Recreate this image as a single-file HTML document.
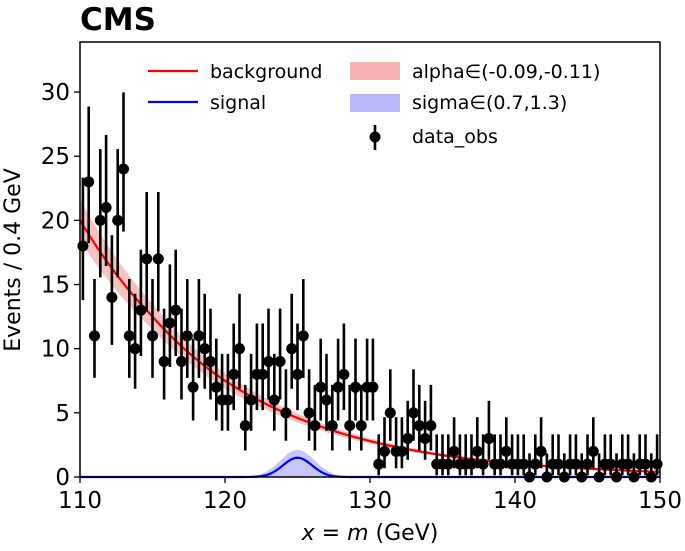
<!DOCTYPE html>
<html><head><meta charset="utf-8"><style>
body{margin:0;background:#fff;}
svg text{font-family:"DejaVu Sans","Liberation Sans",sans-serif;}
</style></head><body>
<svg id="chart" width="685" height="546" xmlns="http://www.w3.org/2000/svg">
<text x="80" y="30" font-size="31" font-weight="bold" font-family="Liberation Sans, sans-serif">CMS</text>
<g id="plot"></g>
</svg>
<script>
const counts=[18,23,11,20,21,14,20,24,11,10,
13,17,11,17,9,12,13,9,11,7,
11,10,9,7,6,6,8,10,4,6,
8,8,9,6,9,5,10,8,11,5,
4,7,6,4,7,8,4,7,4,7,
7,1,2,5,2,2,3,5,4,3,
4,1,1,1,2,1,1,1,2,1,
3,1,1,2,1,1,1,0,1,2,
0,1,1,0,1,1,0,1,2,0,
1,1,0,1,1,0,1,1,0,1];
const bgMass=[110,115,120,125,130,135,140,145,150];
const bgVals=[20,12.5,7.5,4.6,2.8,1.7,1.05,0.65,0.4];
const bgBand=[1.6,1.0,0.6,0.35,0.2,0.12,0.08,0.05,0.03];
const sigMean=[125];
const sigAmp=[1.5];
const sigWidth=[1.0];
const sigBandAmp=[2.1];
const xTicks=[110,120,130,140,150];
const yTicks=[0,5,10,15,20,25,30];

const L=80,R=660,T=42,B=477,XMIN=110,XMAX=150,YMAX=33.9;
const sx=v=>L+(v-XMIN)/(XMAX-XMIN)*(R-L);
const sy=v=>B-v/YMAX*(B-T);
const NS="http://www.w3.org/2000/svg";
const g=document.getElementById('plot');
function mk(tag,attrs,parent){const e=document.createElementNS(NS,tag);for(const k in attrs)e.setAttribute(k,attrs[k]);(parent||g).appendChild(e);return e;}
function interp(m,arr){for(let i=0;i<bgMass.length-1;i++){if(m<=bgMass[i+1]){const t=(m-bgMass[i])/(bgMass[i+1]-bgMass[i]);return Math.exp(Math.log(arr[i])*(1-t)+Math.log(arr[i+1])*t);}}return arr[arr.length-1];}
let up=[],lo=[],line=[];
for(let m=XMIN;m<=XMAX+1e-9;m+=0.2){const v=interp(m,bgVals),b=interp(m,bgBand);up.push(sx(m)+','+sy(v+b));lo.unshift(sx(m)+','+sy(Math.max(v-b,0)));line.push(sx(m)+','+sy(v));}
let e=mk('polygon',{points:up.concat(lo).join(' '),fill:'#f6b3b3',opacity:'0.8'});


let su=[],sl=[],sline=[];
for(let m=XMIN;m<=XMAX+1e-9;m+=0.1){const z=(m-sigMean[0])/sigWidth[0];const v=sigAmp[0]*Math.exp(-0.5*z*z);const zb=(m-sigMean[0])/(sigWidth[0]*1.2);const vb=sigBandAmp[0]*Math.exp(-0.5*zb*zb);su.push(sx(m)+','+sy(vb));sl.unshift(sx(m)+','+sy(0));sline.push(sx(m)+','+sy(v));}
e=mk('polygon',{points:su.concat(sl).join(' '),fill:'#b8b8f6',opacity:'0.8'});


e=mk('polyline',{points:line.join(' '),fill:'none',stroke:'#ff0000','stroke-width':2.2});


e=mk('polyline',{points:sline.join(' '),fill:'none',stroke:'#0000ff','stroke-width':2.2});


const dg=mk('g',{});


counts.forEach((n,i)=>{const m=XMIN+0.2+0.4*i;const x=sx(m);
 const hi=n>0?n+Math.sqrt(n+0.75)+1:1.84, lw=n>0?Math.max(n-Math.sqrt(n-0.25),0):0;
 let l=mk('line',{x1:x,x2:x,y1:sy(hi),y2:sy(lw),stroke:'#000','stroke-width':2.6},dg);
 
 
 let c=mk('circle',{cx:x,cy:sy(n),r:5.5,fill:'#000'},dg);
 
 
});
e=mk('rect',{x:L,y:T,width:R-L,height:B-T,fill:'none',stroke:'#000','stroke-width':1.5});


xTicks.forEach(v=>{mk('line',{x1:sx(v),x2:sx(v),y1:B,y2:B+6,stroke:'#000','stroke-width':1.3});
 const t=mk('text',{x:sx(v),y:B+31,'font-size':23,'text-anchor':'middle'});t.textContent=v;
 
 });
yTicks.forEach(v=>{mk('line',{x1:L-6,x2:L,y1:sy(v),y2:sy(v),stroke:'#000','stroke-width':1.3});
 const t=mk('text',{x:L-10,y:sy(v)+8,'font-size':23,'text-anchor':'end'});t.textContent=v;
 
 });
let t=mk('text',{x:370,y:540,'font-size':22,'text-anchor':'middle'});
t.innerHTML='<tspan font-style="italic">x</tspan> = <tspan font-style="italic">m</tspan> (GeV)';


t=mk('text',{x:0,y:0,'font-size':22,'text-anchor':'middle',transform:'translate(20,260) rotate(-90)'});
t.textContent='Events / 0.4 GeV';


const lg=mk('g',{});


function ltext(x,y,s,name){const tt=mk('text',{x:x,y:y,'font-size':19},lg);tt.textContent=s;}
mk('line',{x1:148,x2:198,y1:71,y2:71,stroke:'#ff0000','stroke-width':2.2},lg);
ltext(210,78,'background','legend-background');
mk('line',{x1:148,x2:198,y1:102,y2:102,stroke:'#0000ff','stroke-width':2.2},lg);
ltext(210,109,'signal','legend-signal');
mk('rect',{x:350,y:62,width:50,height:18,fill:'#f6b3b3'},lg);
ltext(412,78,'alpha\u2208(-0.09,-0.11)','legend-alpha');
mk('rect',{x:350,y:94,width:50,height:18,fill:'#b8b8f6'},lg);
ltext(412,109,'sigma\u2208(0.7,1.3)','legend-sigma');
mk('line',{x1:375,x2:375,y1:125,y2:150,stroke:'#000','stroke-width':2.6},lg);
mk('circle',{cx:375,cy:137,r:5.5,fill:'#000'},lg);
ltext(412,143,'data_obs','legend-data-obs');
</script>
</body></html>
